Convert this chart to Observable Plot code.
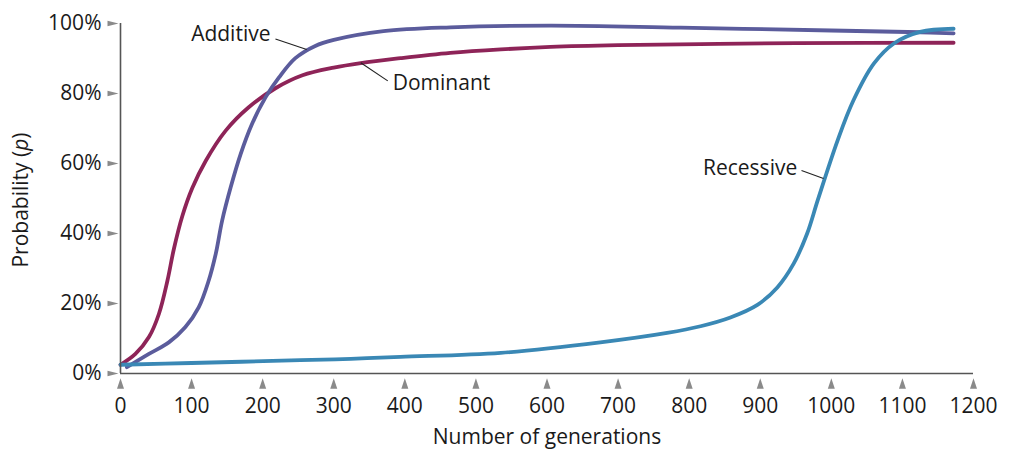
<!DOCTYPE html>
<html>
<head>
<meta charset="utf-8">
<script src="https://cdn.jsdelivr.net/npm/d3@7"></script>
<script src="https://cdn.jsdelivr.net/npm/@observablehq/plot@0.6"></script>
<style>
  html, body { margin: 0; padding: 0; background: #fff; }
  #chart svg { display: block; }
</style>
</head>
<body>
<div id="chart"></div>
<script>
// Generations and probability (%)
const dominantGen = [0, 21, 40, 54, 66, 75, 87, 101, 120, 148, 180, 218, 256, 300, 338, 394, 464, 535, 605, 700, 816, 950, 1172];
const dominantP   = [2.5, 5.6, 10.4, 17, 26.5, 35.5, 45, 53, 60.8, 69.4, 76, 81.5, 85.2, 87.4, 88.7, 90.1, 91.6, 92.6, 93.3, 93.8, 94.1, 94.4, 94.5];

const additiveGen = [9, 40, 68, 91, 110, 124, 134, 143, 155, 169, 185, 204, 223, 246, 274, 300, 370, 464, 605, 788, 1000, 1125, 1172];
const additiveP   = [1.8, 5.6, 8.9, 13.2, 18.9, 26.5, 34.2, 43.7, 53.2, 62.7, 71.3, 78.9, 84.6, 90.1, 93.6, 95.3, 97.8, 98.9, 99.4, 98.8, 98, 97.5, 97.2];

const recessiveGen = [0, 100, 253, 324, 394, 535, 675, 769, 816, 858, 896, 924, 947, 966, 981, 1009, 1031, 1060, 1088, 1125, 1172];
const recessiveP   = [2.5, 3, 3.8, 4.2, 4.75, 5.9, 8.9, 11.6, 13.5, 16, 19.6, 24.6, 31.4, 40, 49.6, 66.7, 78, 88.6, 94.3, 97.6, 98.5];

const xTicks = [0, 100, 200, 300, 400, 500, 600, 700, 800, 900, 1000, 1100, 1200];
const yTicks = [0, 20, 40, 60, 80, 100];

const seriesNames = ["Dominant", "Additive", "Recessive"];
const seriesColors = ["#8e2458", "#5b5c9c", "#3a88b5"];

// Labels and leader lines (data coordinates)
const labelNames = ["Additive", "Dominant", "Recessive"];
const labelGen = [211, 383, 952];
const labelP = [97, 82.8, 58.5];
const labelAnchor = ["end", "start", "end"];
const leaderGen1 = [218, 338, 958];
const leaderP1 = [95.6, 88.8, 58];
const leaderGen2 = [262, 376, 989];
const leaderP2 = [92.6, 83.6, 55.7];

const rows = [];
const gens = [dominantGen, additiveGen, recessiveGen];
const ps = [dominantP, additiveP, recessiveP];
seriesNames.forEach((s, i) => gens[i].forEach((g, j) => rows.push({series: s, gen: g, p: ps[i][j]})));

const labels = labelNames.map((n, i) => ({name: n, gen: labelGen[i], p: labelP[i], anchor: labelAnchor[i],
  g1: leaderGen1[i], p1: leaderP1[i], g2: leaderGen2[i], p2: leaderP2[i]}));

const rightTri = {draw(ctx) { ctx.moveTo(-5.5, -2.8); ctx.lineTo(5.5, 0); ctx.lineTo(-5.5, 2.8); ctx.closePath(); }};
const upTri = {draw(ctx) { ctx.moveTo(-3.5, 5.3); ctx.lineTo(0, -5.3); ctx.lineTo(3.5, 5.3); ctx.closePath(); }};

const font = "'Open Sans', 'Noto Sans', sans-serif";
const fs = 21;

const chart = Plot.plot({
  width: 1012,
  height: 456,
  marginLeft: 120,
  marginRight: 39,
  marginTop: 23,
  marginBottom: 83,
  style: {fontFamily: font, fontSize: fs + "px", color: "#1a1a1a", background: "#fff"},
  x: {domain: [0, 1200], axis: null},
  y: {domain: [0, 100], axis: null},
  color: {domain: seriesNames, range: seriesColors},
  marks: [
    Plot.axisY(yTicks, {anchor: "left", tickSize: 0, tickPadding: 19, tickFormat: d => d + "%", fontSize: fs, fill: "#1a1a1a", label: null}),
    Plot.axisX(xTicks, {anchor: "bottom", tickSize: 0, tickPadding: 25, tickFormat: d => String(d), fontSize: fs, fill: "#1a1a1a", label: null}),
    Plot.dot(yTicks, {x: 0, y: d => d, dx: -7.5, symbol: rightTri, fill: "#8a8a8a", stroke: null}),
    Plot.dot(xTicks, {x: d => d, y: 0, dy: 10, symbol: upTri, fill: "#8a8a8a", stroke: null}),
    Plot.line(rows, {x: "gen", y: "p", z: "series", stroke: "series", strokeWidth: 3.8, curve: "catmull-rom"}),
    Plot.ruleX([0], {y1: 0, y2: 100, stroke: "#555", strokeWidth: 1.6}),
    Plot.ruleY([0], {x1: 0, x2: 1200, stroke: "#555", strokeWidth: 1.6}),
    Plot.link(labels, {x1: "g1", y1: "p1", x2: "g2", y2: "p2", stroke: "#222", strokeWidth: 1.1}),
    Plot.text(labels.filter(d => d.anchor === "end"), {x: "gen", y: "p", text: "name", textAnchor: "end", fontSize: fs, fill: "#1a1a1a"}),
    Plot.text(labels.filter(d => d.anchor === "start"), {x: "gen", y: "p", text: "name", textAnchor: "start", fontSize: fs, fill: "#1a1a1a"})
  ]
});

const svg = d3.select(chart);
const yt = svg.append("text")
  .attr("transform", "translate(22,200) rotate(-90)")
  .attr("text-anchor", "middle")
  .attr("dominant-baseline", "middle")
  .attr("font-size", fs)
  .attr("fill", "#1a1a1a");
yt.append("tspan").text("Probability (");
yt.append("tspan").attr("font-style", "italic").text("p");
yt.append("tspan").text(")");

svg.append("text")
  .attr("x", 547)
  .attr("y", 438)
  .attr("text-anchor", "middle")
  .attr("dominant-baseline", "middle")
  .attr("font-size", fs)
  .attr("fill", "#1a1a1a")
  .text("Number of generations");

document.getElementById("chart").appendChild(chart);
</script>
</body>
</html>
